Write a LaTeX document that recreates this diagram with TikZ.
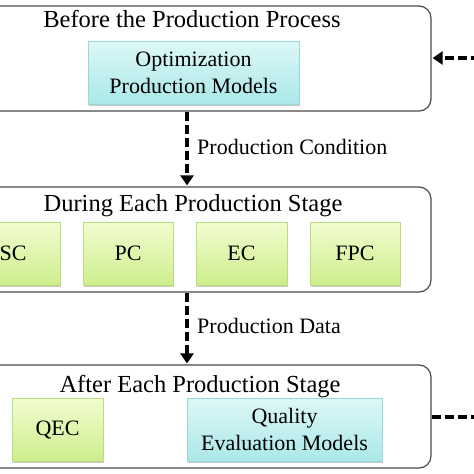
\documentclass[tikz,border=0pt]{standalone}
\usepackage{fontspec}
\setmainfont{Liberation Serif}
\usetikzlibrary{arrows.meta,shadows}
\definecolor{cyantop}{HTML}{DDF7F7}
\definecolor{cyanbot}{HTML}{ABE8E8}
\definecolor{cyanline}{HTML}{9AD8D8}
\definecolor{greentop}{HTML}{F2FDD0}
\definecolor{greenbot}{HTML}{CDEE8C}
\definecolor{greenline}{HTML}{BBDD80}
\definecolor{frame}{HTML}{4A4A4A}
\tikzset{
  stagebox/.style={draw=frame, line width=1.2pt, rounded corners=12pt, fill=white, inner sep=0pt},
  stagetitle/.style={anchor=base, font=\fontsize{24.5}{27}\selectfont},
  modelbox/.style={draw=cyanline, line width=0.6pt, top color=cyantop, bottom color=cyanbot,
    drop shadow={shadow xshift=1pt, shadow yshift=-1.5pt, opacity=0.35, fill=black!60},
    align=center, inner sep=0pt, font=\fontsize{22}{27}\selectfont},
  ctrlbox/.style={draw=greenline, line width=0.6pt, top color=greentop, bottom color=greenbot,
    drop shadow={shadow xshift=1pt, shadow yshift=-1.5pt, opacity=0.35, fill=black!60},
    align=center, inner sep=0pt, minimum height=63pt, font=\fontsize{22}{27}\selectfont},
  flow/.style={line width=3.3pt, dash pattern=on 9pt off 4pt, black},
  flowlabel/.style={anchor=base west, inner sep=0pt, font=\fontsize{22}{26}\selectfont},
  tip/.style={-{Triangle[width=13pt,length=10pt]}}
}
\begin{document}
\begin{tikzpicture}[x=1pt,y=-1pt]
\useasboundingbox (0,0) rectangle (474,474);
\fill[white] (0,0) rectangle (474,474);
\clip (0,0) rectangle (474,474);

% stage frames
\node[stagebox, minimum width=455pt, minimum height=105pt] (before) at (203.5,58.5) {};
\node[stagebox, minimum width=455pt, minimum height=105pt] (during) at (203.5,239.5) {};
\node[stagebox, minimum width=455pt, minimum height=103pt] (after) at (203.5,416.5) {};

% titles
\node[stagetitle] (t1) at (192,27) {Before the Production Process};
\node[stagetitle] (t2) at (193,211) {During Each Production Stage};
\node[stagetitle] (t3) at (200,392) {After Each Production Stage};

% inner boxes
\node[modelbox, minimum width=211pt, minimum height=63pt] (opt) at (193.5,72.5) {Optimization\\Production Models};

\node[ctrlbox, minimum width=94pt] (sc) at (13,253.5) {SC};
\node[ctrlbox, minimum width=90pt] (pc) at (128,253.5) {PC};
\node[ctrlbox, minimum width=91pt] (ec) at (241.5,253.5) {EC};
\node[ctrlbox, minimum width=90pt] (fpc) at (355,253.5) {FPC};

\node[ctrlbox, minimum width=91pt] (qec) at (57.5,429.5) {QEC};
\node[modelbox, minimum width=195pt, minimum height=63pt] (qem) at (284.5,429.5) {Quality\\Evaluation Models};

% connectors
\coordinate (ax) at (187,0);
\draw[flow, tip] (before.south -| ax) -- ([yshift=1pt]during.north -| ax);
\draw[flow, tip] (during.south -| ax) -- ([yshift=1pt]after.north -| ax);
\node[flowlabel] (l1) at (197,154) {Production Condition};
\node[flowlabel] (l2) at (197,333) {Production Data};

\coordinate (rin) at (480,58);
\coordinate (rout) at (480,417);
\draw[flow, tip] (rin) -- ([xshift=1pt]before.east |- rin);
\draw[flow] (after.east |- rout) -- (rout);
\end{tikzpicture}
\end{document}
